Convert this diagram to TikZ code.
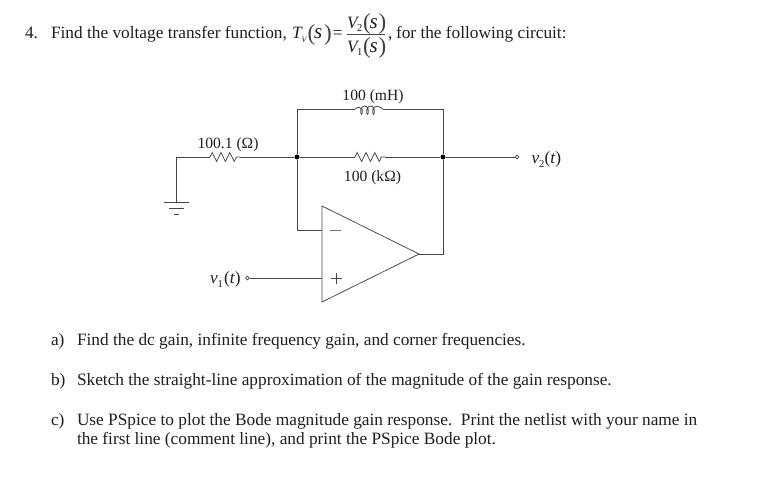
\documentclass[tikz,border=0pt]{standalone}
\usepackage{fontspec}
\setmainfont{Liberation Serif}
\usetikzlibrary{calc}
\tikzset{
 x=1pt,y=-1pt,
 wire/.style={draw=black!72,line width=0.75pt},
 txt/.style={anchor=base west,inner sep=0pt,outer sep=0pt,font=\fontsize{17.3}{20}\selectfont,text=black!88},
 lab/.style={anchor=base,inner sep=0pt,outer sep=0pt,font=\fontsize{15.6}{20}\selectfont,text=black!88},
 subs/.style={anchor=base west,inner sep=0pt,outer sep=0pt,font=\fontsize{10.5}{12}\selectfont,text=black!88},
 subi/.style={subs,font=\fontsize{8}{10}\selectfont\itshape},
 ital/.style={anchor=base west,inner sep=0pt,outer sep=0pt,font=\fontsize{17.3}{20}\selectfont\itshape,text=black!88},
 bigs/.style={ital,font=\fontsize{21}{22}\selectfont\itshape},
 bigp/.style={anchor=base west,inner sep=0pt,outer sep=0pt,font=\fontsize{23}{24}\selectfont,text=black!75},
 dotn/.style={circle,fill=black,draw=none,minimum size=5pt,inner sep=0pt},
 term/.style={circle,draw=black!72,fill=white,line width=0.6pt,minimum size=3.8pt,inner sep=0pt},
}
\begin{document}
\begin{tikzpicture}
\useasboundingbox (0,0) rectangle (761,482);
\fill[white] (0,0) rectangle (761,482);
% heading
\node[txt] (n4) at (25,38.5) {4.};
\node[txt] (find) at (51,38.5) {Find the voltage transfer function,};
\node[ital] (tv) at (292,38.5) {T};
\node[subi] (tvs) at (301.6,42) {V};
\node[bigp] (lp) at (307.5,40) {(};
\node[bigs] (ts) at (314,38.5) {s};
\node[bigp] (rp) at (324,40) {)};
\node[txt] (eqs) at (332.8,38.5) {=};
\node[ital] (v2n) at (347,28) {V};
\node[subs] (v2ns) at (357,31) {2};
\node[bigp] (v2l) at (363,29.5) {(};
\node[bigs] (v2s) at (369.5,28) {s};
\node[bigp] (v2r) at (378.5,29.5) {)};
\node[ital] (v1n) at (347,52) {V};
\node[subs] (v1ns) at (357,55) {1};
\node[bigp] (v1l) at (363,53.5) {(};
\node[bigs] (v1s) at (369.5,52) {s};
\node[bigp] (v1r) at (378.5,53.5) {)};
\coordinate (fa) at (347,34); \coordinate (fb) at (385,34);
\draw[black!72,line width=0.6pt] (fa) -- (fb);
\node[txt] (comma) at (388,38.5) {,};
\node[txt] (rest) at (396,38.5) {for the following circuit:};
% junctions / coords
\coordinate (gnd) at (176.5,202);
\coordinate (lw) at (176.5,157);
\coordinate (ra) at (210,157);
\coordinate (rb) at (240,157);
\node[dotn] (j1) at (297,157) {};
\node[dotn] (j2) at (443,157) {};
\coordinate (tl) at (297,109);
\coordinate (tr) at (443,109);
\coordinate (la) at (355,109);
\coordinate (lb) at (383,109);
\coordinate (fra) at (355,157);
\coordinate (frb) at (385,157);
\node[term] (o2) at (517,157) {};
\node[term] (i1) at (247.5,278) {};
\coordinate (oa1) at (322,206);
\coordinate (oa2) at (322,302);
\coordinate (oa3) at (419,254);
\coordinate (inm) at (322,230);
\coordinate (inp) at (322,278);
\coordinate (fbk) at (297,230);
\coordinate (oc) at (443,254);
% wires
\draw[wire] (gnd) -- (lw) -- (ra);
\draw[wire] (ra) -- ++(2.2,-4.5) -- ++(4.4,9) -- ++(4.4,-9) -- ++(4.4,9) -- ++(4.4,-9) -- ++(4.4,9) -- ++(2.2,-4.5) -- (rb);
\draw[wire] (rb) -- (j1);
\draw[wire] (j1) -- (fra);
\draw[wire] (fra) -- ++(2.2,-4.5) -- ++(4.4,9) -- ++(4.4,-9) -- ++(4.4,9) -- ++(4.4,-9) -- ++(4.4,9) -- ++(2.2,-4.5) -- (frb);
\draw[wire] (frb) -- (j2);
\draw[wire] (j2) -- (o2);
\draw[wire] (tl) -- (la);
\draw[wire] (lb) -- (tr);
\draw[wire,line width=0.8pt] (la) .. controls (358,106.5) and (361,107) .. (362,109)
 .. controls (363.5,116) and (359.5,116) .. (361,109)
 .. controls (362.5,105) and (367,105) .. (368,109)
 .. controls (369.5,116) and (365.5,116) .. (367,109)
 .. controls (368.5,105) and (373,105) .. (374,109)
 .. controls (375.5,116) and (371.5,116) .. (373,109)
 .. controls (374.5,105) and (379,106) .. (lb);
\draw[wire] (tl) -- (j1) -- (fbk) -- (inm);
\draw[wire] (tr) -- (j2) -- (oc) -- (oa3);
\draw[wire] (i1) -- (inp);
\draw[wire] (oa1) -- (oa2) -- (oa3) -- cycle;
% ground
\coordinate (g1a) at (164,202); \coordinate (g1b) at (189,202);
\coordinate (g2a) at (169,208); \coordinate (g2b) at (184,208);
\coordinate (g3a) at (174,214); \coordinate (g3b) at (179,214);
\draw[wire] (g1a) -- (g1b);
\draw[wire] (g2a) -- (g2b);
\draw[wire] (g3a) -- (g3b);
% +/- signs
\coordinate (ma) at (330,230); \coordinate (mb) at (341,230);
\draw[wire,line width=1pt,draw=black!55] (ma) -- (mb);
\coordinate (pa) at (330.5,278); \coordinate (pb) at (341.5,278);
\coordinate (pc) at (336,272.5); \coordinate (pd) at (336,283.5);
\draw[wire] (pa) -- (pb); \draw[wire] (pc) -- (pd);
% labels
\node[lab] (lr1) at (228,148) {100.1 (Ω)};
\node[lab] (ll) at (373,100) {100 (mH)};
\node[lab] (lr2) at (372.5,181) {100 (kΩ)};
\node[ital] (v2a) at (531.5,163.5) {v};
\node[subs] (v2b) at (539,167.5) {2};
\node[txt] (v2c) at (544.5,163.5) {(\textit{t})};
\node[ital] (v1a) at (210,283.5) {v};
\node[subs] (v1b) at (217.5,287.5) {1};
\node[txt] (v1c) at (224,283.5) {(\textit{t})};
% questions
\node[txt] (qa) at (51,345) {a)};
\node[txt] (qat) at (77,345) {Find the dc gain, infinite frequency gain, and corner frequencies.};
\node[txt] (qb) at (51,385) {b)};
\node[txt] (qbt) at (77,385) {Sketch the straight-line approximation of the magnitude of the gain response.};
\node[txt] (qc) at (51,425) {c)};
\node[txt] (qct) at (77,425) {Use PSpice to plot the Bode magnitude gain response.\ \ Print the netlist with your name in};
\node[txt] (qct2) at (77,444) {the first line (comment line), and print the PSpice Bode plot.};
\end{tikzpicture}
\end{document}
